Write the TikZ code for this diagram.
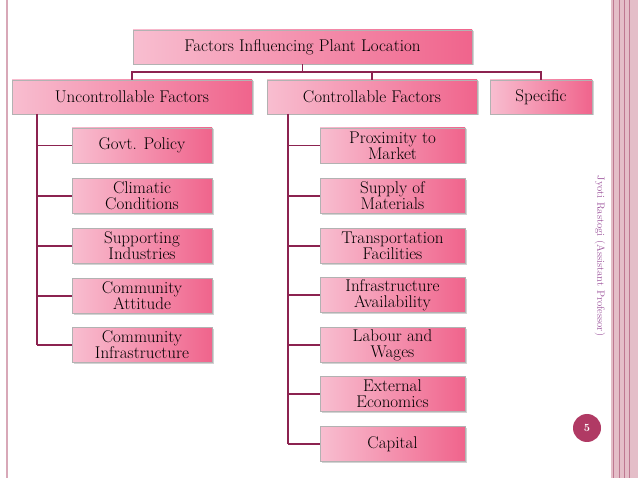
\documentclass[tikz,border=0pt]{standalone}
\usetikzlibrary{shadows}
\definecolor{pinkA}{RGB}{248,190,208}
\definecolor{pinkB}{RGB}{240,100,140}
\definecolor{lineC}{RGB}{140,35,80}
\definecolor{bordL}{RGB}{216,168,184}
\definecolor{bordR}{RGB}{228,190,200}
\definecolor{stripe}{RGB}{190,120,145}
\definecolor{authC}{RGB}{160,90,160}
\definecolor{circC}{RGB}{176,58,100}
\begin{document}
\begin{tikzpicture}[x=1pt,y=-1pt,
  bx/.style={draw=black!30,line width=0.4pt,left color=pinkA,right color=pinkB,
    drop shadow={shadow xshift=1.5pt,shadow yshift=-1.5pt,opacity=0.35},
    font=\fontsize{17}{16}\selectfont,align=center,inner sep=0pt,minimum height=34pt},
  ln/.style={draw=lineC,line width=1.3pt}]
\useasboundingbox (0,0) rectangle (638,478);
\fill[white] (0,0) rectangle (638,478);
% decorative borders
\draw[draw=bordL,line width=2pt] (7,0) -- (7,478);
\fill[bordR] (611,0) rectangle (638,478);
\foreach \x in {613,619,624,629}{\draw[stripe,line width=0.8pt] (\x,0) -- (\x,478);}
% nodes
\node[bx,minimum width=339pt] (top) at (302.5,47) {Factors Influencing Plant Location};
\node[bx,minimum width=240pt] (unc) at (132,97) {Uncontrollable Factors};
\node[bx,minimum width=210pt] (con) at (372,97) {Controllable Factors};
\node[bx,minimum width=102pt] (spe) at (541,97) {Specific};
\foreach \n/\y/\t in {u1/145.5/Govt. Policy,u2/196/Climatic\\Conditions,u3/246/Supporting\\Industries,u4/296/Community\\Attitude,u5/345/Community\\Infrastructure}
  \node[bx,minimum width=140pt,minimum height=35pt] (\n) at (142,\y) {\t};
\foreach \n/\y/\t in {c1/145.5/Proximity to\\Market,c2/196/Supply of\\Materials,c3/246/Transportation\\Facilities,c4/295/Infrastructure\\Availability,c5/345/Labour and\\Wages,c6/394/External\\Economics,c7/444/Capital}
  \node[bx,minimum width=145pt,minimum height=35pt] (\n) at (392.5,\y) {\t};
% connectors
\coordinate (bus) at (302.5,72);
\draw[ln] (top.south) -- (bus);
\draw[ln] (unc.north) |- (bus) -| (spe.north);
\draw[ln] (bus) -| (con.north);
\draw[ln] (37,114) -- (37,345);
\foreach \n in {u1,u2,u3,u4,u5}\draw[ln] (37,0 |- \n.west) -- (\n.west);
\draw[ln] (288,114) -- (288,444);
\foreach \n in {c1,c2,c3,c4,c5,c6,c7}\draw[ln] (288,0 |- \n.west) -- (\n.west);
% side text
\node[rotate=-90,text=authC,font=\fontsize{10.5}{11}\selectfont] (auth) at (600,256) {Jyoti Rastogi (Assistant Professor)};
\node[circle,fill=circC,minimum size=28pt,inner sep=0pt,text=white,font=\bfseries\fontsize{11}{11}\selectfont] (pg) at (587,428) {5};
\end{tikzpicture}
\end{document}
